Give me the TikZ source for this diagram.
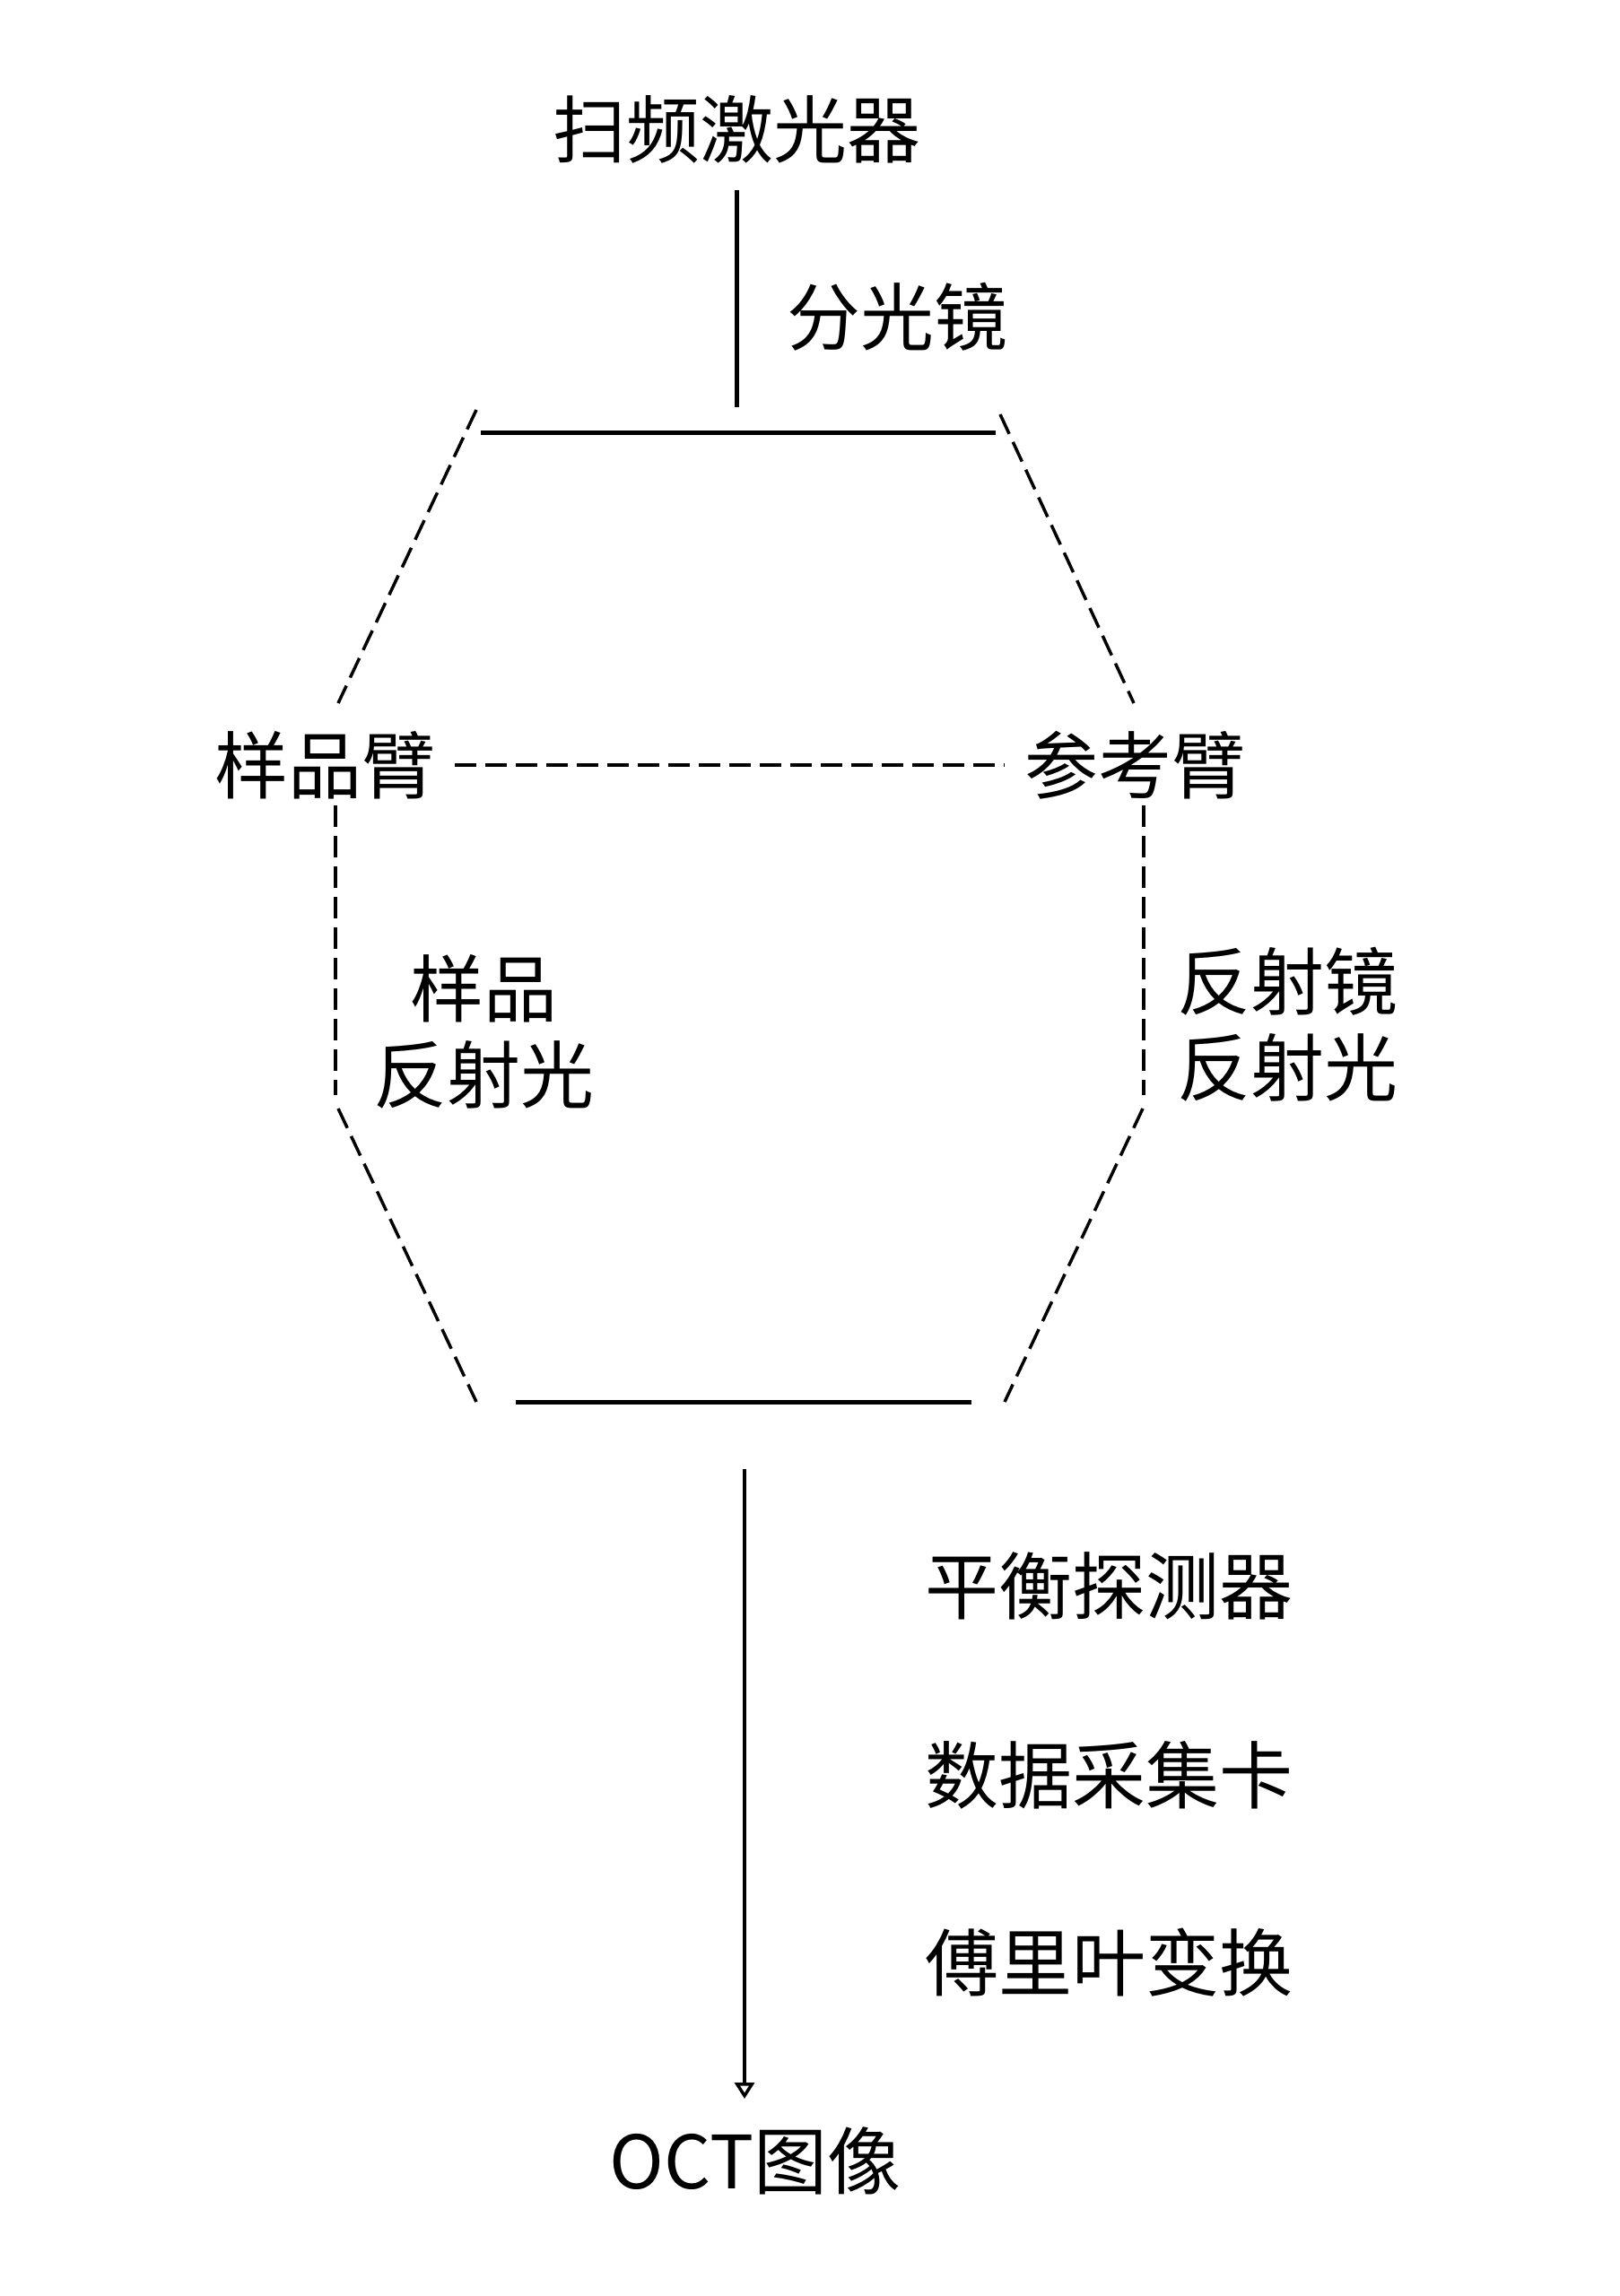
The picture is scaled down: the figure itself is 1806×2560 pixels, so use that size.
\documentclass[tikz,border=0pt]{standalone}
\usepackage{fontspec}
\setmainfont{Noto Sans CJK SC}
\usetikzlibrary{arrows.meta}
\tikzset{
  lbl/.style={font=\fontsize{82}{96}\selectfont, inner sep=0pt, align=center},
  solidline/.style={line width=5pt},
  dashline/.style={line width=3.5pt, dash pattern=on 24pt off 10pt},
}
\begin{document}
\begin{tikzpicture}[x=1pt,y=-1pt]
\useasboundingbox[fill=white] (0,0) rectangle (1806,2560);
% texts
\node[lbl] (laser) at (821,144) {扫频激光器};
\node[lbl] (bs) at (1000,353) {分光镜};
\node[lbl] (sarm) at (362,853) {样品臂};
\node[lbl] (rarm) at (1265,853) {参考臂};
\node[lbl] (srefl) at (539,1150) {样品\\反射光};
\node[lbl] (rrefl) at (1435,1142) {反射镜\\反射光};
\node[lbl] (det) at (1236,1768) {平衡探测器};
\node[lbl] (daq) at (1236,1979) {数据采集卡};
\node[lbl] (fft) at (1236,2188) {傅里叶变换};
\node[lbl] (oct) at (842,2409) {OCT图像};
% coordinates
\coordinate (v1) at (821,212);
\coordinate (v2) at (821,454);
\coordinate (t1) at (536,482);
\coordinate (t2) at (1110,482);
\coordinate (ul1) at (531,457);
\coordinate (ul2) at (377,784);
\coordinate (ur1) at (1115,462);
\coordinate (ur2) at (1264,784);
\coordinate (ml1) at (374,898);
\coordinate (ml2) at (374,1221);
\coordinate (mr1) at (1275,898);
\coordinate (mr2) at (1275,1221);
\coordinate (ll1) at (377,1236);
\coordinate (ll2) at (531,1563);
\coordinate (lr1) at (1274,1236);
\coordinate (lr2) at (1120,1563);
\coordinate (b1) at (575,1563);
\coordinate (b2) at (1083,1563);
\coordinate (a1) at (830,1638);
\coordinate (a2) at (830,2340);
% lines
\draw[solidline] (v1) -- (v2);
\draw[solidline] (t1) -- (t2);
\draw[solidline] (b1) -- (b2);
\draw[dashline] (ul1) -- (ul2);
\draw[dashline] (ur1) -- (ur2);
\draw[dashline] (ml1) -- (ml2);
\draw[dashline] (mr1) -- (mr2);
\draw[dashline] (ll1) -- (ll2);
\draw[dashline] (lr1) -- (lr2);
\draw[dashline] ([xshift=22pt]sarm.east) -- ([xshift=-22pt]rarm.west);
\draw[line width=4pt, -{Triangle[open, width=22pt, length=18pt, line width=3.5pt]}] (a1) -- (a2);
\end{tikzpicture}
\end{document}
